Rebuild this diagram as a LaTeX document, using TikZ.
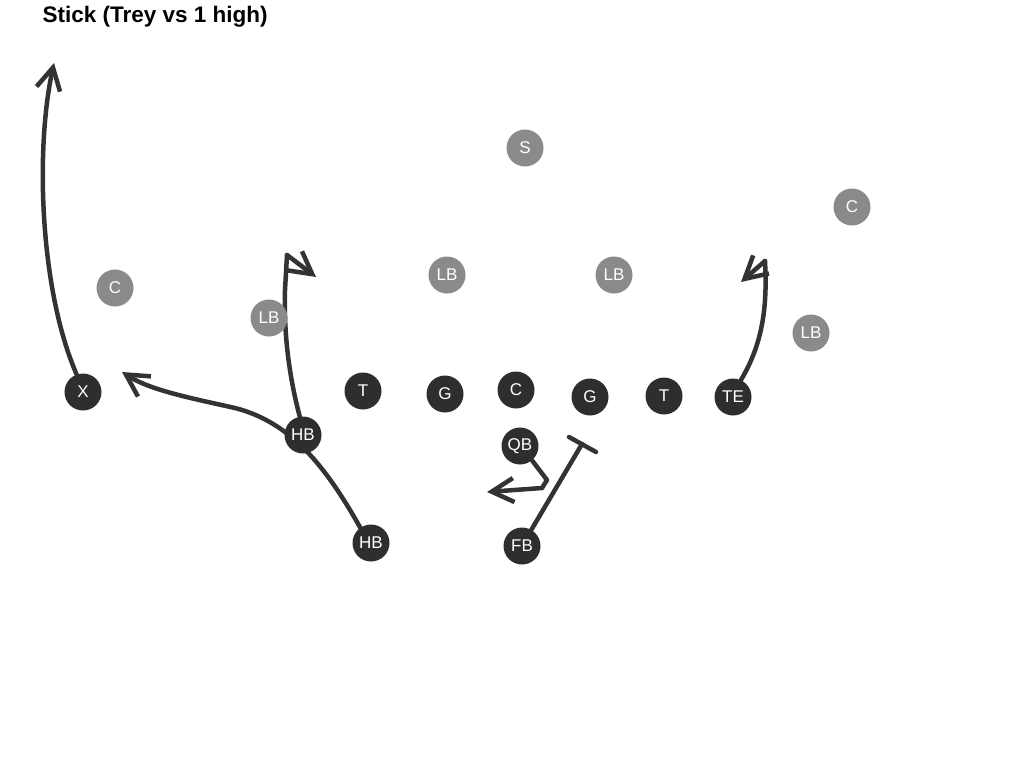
\documentclass[tikz,border=0pt]{standalone}
\usepackage{fontspec}
\setmainfont{Liberation Sans}
\usetikzlibrary{arrows.meta,backgrounds}
\definecolor{off}{HTML}{2E2E2E}
\definecolor{def}{HTML}{8A8A8A}
\definecolor{route}{HTML}{333333}
\begin{document}
\begin{tikzpicture}[x=1pt,y=-1pt,
  offp/.style={circle,fill=off,text=white,minimum size=37pt,inner sep=0pt,font=\fontsize{17}{17}\selectfont},
  defp/.style={circle,fill=def,text=white,minimum size=37pt,inner sep=0pt,font=\fontsize{17}{17}\selectfont},
  rt/.style={draw=route,line width=4.5pt,line cap=round,line join=round},
  tip/.style={-{Straight Barb[length=22pt,width=24pt,line width=4.5pt]}}]
\useasboundingbox (0,0) rectangle (1024,768);
\node[anchor=west,font=\bfseries\fontsize{22.5}{22.5}\selectfont] (title) at (39,17) {Stick (Trey vs 1 high)};
% defense
\node[defp] (S) at (525,148) {S};
\node[defp] (CR) at (852,207) {C};
\node[defp] (CL) at (115,288) {C};
\node[defp] (LB1) at (447,275) {LB};
\node[defp] (LB2) at (614,275) {LB};
\node[defp] (LB3) at (269,318) {LB};
\node[defp] (LB4) at (811,333) {LB};
% offense
\node[offp] (X) at (83,392) {X};
\node[offp] (LT) at (363,391) {T};
\node[offp] (LG) at (445,394) {G};
\node[offp] (Cn) at (516,390) {C};
\node[offp] (RG) at (590,397) {G};
\node[offp] (RT) at (664,396) {T};
\node[offp] (TE) at (733,397) {TE};
\node[offp] (HB1) at (303,435) {HB};
\node[offp] (HB2) at (371,543) {HB};
\node[offp] (QB) at (520,446) {QB};
\node[offp] (FB) at (522,546) {FB};
% route ends
\coordinate (xend) at (54,63);
\coordinate (hbend) at (122,372);
\coordinate (h1c) at (287,255);
\coordinate (h1end) at (316,277);
\coordinate (tec) at (765,261);
\coordinate (teend) at (741,282);
\coordinate (qba) at (547,480);
\coordinate (qbb) at (542,488);
\coordinate (qbend) at (487,492);
\coordinate (fbend) at (582,444);
\coordinate (bar1) at (569,437);
\coordinate (bar2) at (596,452);
\begin{scope}[on background layer]
\draw[rt,tip] (X.110) .. controls (40,290) and (35,150) .. (xend);
\draw[rt,tip] (HB2.125) .. controls (325,465) and (290,422) .. (235,408) .. controls (190,398) and (150,390) .. (hbend);
\draw[rt] (HB1.100) .. controls (286,365) and (284,320) .. (285,290) -- (h1c);
\draw[rt,tip] (h1c) -- (h1end);
\draw[rt] (TE.65) .. controls (765,340) and (767,300) .. (tec);
\draw[rt,tip] (tec) -- (teend);
\draw[rt] (QB.-50) -- (qba) -- (qbb);
\draw[rt,tip] (qbb) -- (qbend);
\draw[rt] (FB.60) -- (fbend);
\draw[rt] (bar1) -- (bar2);
\end{scope}
\end{tikzpicture}
\end{document}
